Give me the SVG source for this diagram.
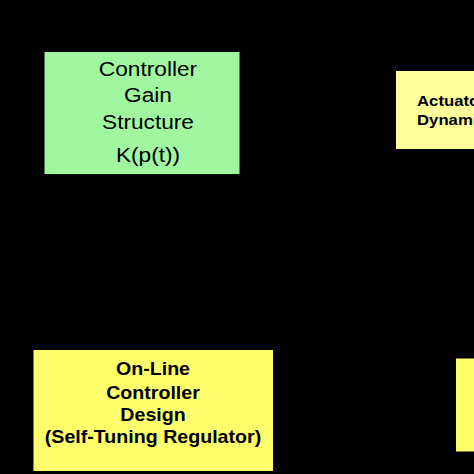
<svg xmlns="http://www.w3.org/2000/svg" width="474" height="474" viewBox="0 0 474 474">
<defs>
<style>
.box{stroke:#000;stroke-width:1}
.reg{font-family:"Liberation Sans",Arial,sans-serif;font-size:21px;fill:#000;text-anchor:middle}
.bold{font-family:"Liberation Sans",Arial,sans-serif;font-weight:bold;font-size:18px;fill:#000;text-anchor:middle}
.act{font-family:"Liberation Sans",Arial,sans-serif;font-weight:bold;font-size:15.5px;fill:#000}
.conn{stroke:#000;stroke-width:1.5;fill:none}
</style>
<marker id="arrow" viewBox="0 0 10 10" refX="10" refY="5" markerWidth="7" markerHeight="7" orient="auto">
<path d="M0,0 L10,5 L0,10 z" fill="#000"/>
</marker>
</defs>
<rect width="474" height="474" fill="#000"/>
<g id="connectors">
<line class="conn" x1="240" y1="114" x2="395" y2="114" marker-end="url(#arrow)"/>
</g>
<g id="controller-gain">
<rect class="box" x="44" y="51.5" width="196" height="123" fill="#a0f7a0"/>
<g transform="translate(148,0) scale(1.08,1)">
<text class="reg" x="0" y="76">Controller</text>
<text class="reg" x="0" y="102.5">Gain</text>
<text class="reg" x="0" y="129">Structure</text>
<text class="reg" x="0" y="162">K(p(t))</text>
</g>
</g>
<g id="actuator-dynamics">
<rect class="box" x="395.5" y="70.5" width="90" height="79" fill="#ffff9c"/>
<g transform="translate(417,0) scale(1.08,1)">
<text class="act" x="0" y="106">Actuator</text>
<text class="act" x="0" y="125">Dynamics</text>
</g>
</g>
<g id="online-controller-design">
<rect class="box" x="33" y="349.5" width="240.5" height="122" fill="#ffff6b"/>
<g transform="translate(153,0) scale(1.09,1)">
<text class="bold" x="0" y="375">On-Line</text>
<text class="bold" x="0" y="399">Controller</text>
<text class="bold" x="0" y="421.5">Design</text>
<text class="bold" x="0" y="443.5">(Self-Tuning Regulator)</text>
</g>
</g>
<g id="right-box">
<rect class="box" x="455.5" y="358" width="30" height="94" fill="#ffff6b"/>
</g>
</svg>
